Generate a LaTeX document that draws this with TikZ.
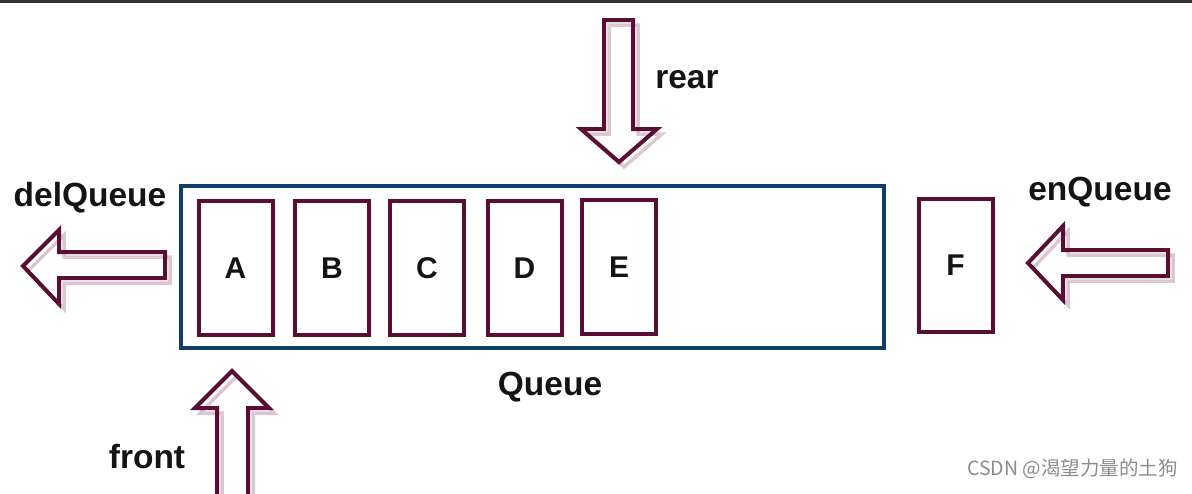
\documentclass[tikz,border=0pt]{standalone}
\usepackage{fontspec}
\setmainfont{Liberation Sans}
\newfontfamily\cjk{Noto Sans CJK SC}
\definecolor{maroon}{HTML}{5A0E36}
\definecolor{qblue}{HTML}{0E3E6C}
\definecolor{shade}{HTML}{DCC6D1}
\definecolor{ink}{HTML}{141414}
\begin{document}
\begin{tikzpicture}[x=1pt,y=-1pt,
  cell/.style={draw=maroon,line width=4pt,minimum width=74pt,minimum height=134pt,inner sep=0pt,font=\fontsize{30}{36}\selectfont\bfseries,text=ink},
  lbl/.style={font=\fontsize{33.5}{40}\selectfont\bfseries,text=ink,inner sep=0pt},
  blk/.style={draw=maroon,line width=4pt,line join=miter},
  blkshadow/.style={draw=shade,line width=3.5pt,line join=miter,shift={(5,5)}}]
\useasboundingbox (0,0) rectangle (1192,493);
\clip (0,0) rectangle (1192,493);
\fill[fill=black!80] (0,0) rectangle (1192,3);
% queue box
\node[draw=qblue,line width=4pt,minimum width=703pt,minimum height=162pt,inner sep=0pt] (queue) at (532.5,267) {};
% cells
\node[cell] (A) at (235.5,268) {A};
\node[cell] (B) at (332,268) {B};
\node[cell] (C) at (427,268) {C};
\node[cell] (D) at (524.5,268) {D};
\node[cell] (E) at (619,267) {E};
\node[cell,minimum height=133pt] (F) at (955.5,265.5) {F};
% labels
\node[lbl] (rear) at (687,80) {rear};
\node[lbl] (del) at (90,198) {delQueue};
\node[lbl] (enq) at (1100,192) {enQueue};
\node[lbl] (qlbl) at (550,387) {Queue};
\node[lbl] (front) at (147,457) {front};
% block arrows
\def\reararrow{(604,20) -- (633,20) -- (633,129) -- (657,129) -- (619,162) -- (581,129) -- (604,129) -- cycle}
\def\delarrow{(165,252) -- (59,252) -- (59,230) -- (23,266) -- (59,304) -- (59,278) -- (165,278) -- cycle}
\def\enqarrow{(1168,250) -- (1063,250) -- (1063,226) -- (1028,263) -- (1063,300) -- (1063,276) -- (1168,276) -- cycle}
\def\frontarrow{(217,510) -- (217,408) -- (195,408) -- (232,371) -- (269,408) -- (248,408) -- (248,510)}
\draw[blkshadow] \reararrow;
\draw[blkshadow] \delarrow;
\draw[blkshadow] \enqarrow;
\draw[blkshadow] \frontarrow;
\draw[blk] \reararrow;
\draw[blk] \delarrow;
\draw[blk] \enqarrow;
\draw[blk] \frontarrow;
% watermark
\node[font=\cjk\fontsize{19.5}{23}\selectfont,text=black!45,anchor=east,inner sep=0pt] (wm) at (1178,469) {CSDN @渴望力量的土狗};
\end{tikzpicture}
\end{document}
